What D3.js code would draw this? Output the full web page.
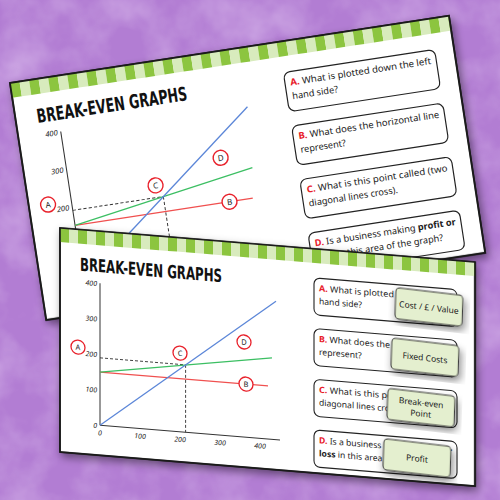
<!DOCTYPE html>
<html>
<head>
<meta charset="utf-8">
<script src="https://cdn.jsdelivr.net/npm/d3@7"></script>
<style>
  body { margin: 0; background: #b884d6; }
  svg { display: block; }
</style>
</head>
<body>
<svg id="chart" width="500" height="500"></svg>
<script>
"use strict";

// axis ticks (both axes)
const tickValues = [0, 100, 200, 300, 400];

// lines on the break-even graph (x = output, y = £)
const revenueX = [0, 440];
const revenue = [0, 390];
const totalCostX = [0, 430];
const totalCost = [150, 230];
const fixedCostX = [0, 420];
const fixedCost = [150, 150];
const breakEven = [214, 190];

// circled labels: letter, x, y (data units)
const markers = [["A", -55, 215], ["C", 200, 222], ["D", 360, 268], ["B", 365, 150]];

// questions (line 1, line 2) and answers
const questions = [
  ["A.", "What is plotted down the left", "hand side?"],
  ["B.", "What does the horizontal line", "represent?"],
  ["C.", "What is this point called (two", "diagonal lines cross)."],
  ["D.", "Is a business making ", "in this area of the graph?"]
];
const answers = [["Cost / £ / Value"], ["Fixed Costs"], ["Break-even", "Point"], ["Profit"]];

const svg = d3.select("#chart");
const defs = svg.append("defs");

// purple mottled background
const tex = defs.append("filter").attr("id", "tex").attr("x", 0).attr("y", 0).attr("width", 1).attr("height", 1);
tex.append("feTurbulence").attr("type", "fractalNoise").attr("baseFrequency", 0.02).attr("numOctaves", 4).attr("seed", 3);
tex.append("feColorMatrix").attr("values",
  "0 0 0 0 0.82  0 0 0 0 0.66  0 0 0 0 0.92  0 0 0 1.2 -0.45");
svg.append("rect").attr("width", 500).attr("height", 500).attr("fill", "#b27dd3");
svg.append("rect").attr("width", 500).attr("height", 500).attr("filter", "url(#tex)").attr("opacity", 0.7);

const shadow = defs.append("filter").attr("id", "shadow").attr("x", -0.1).attr("y", -0.1).attr("width", 1.2).attr("height", 1.3);
shadow.append("feDropShadow").attr("dx", 2).attr("dy", 4).attr("stdDeviation", 4).attr("flood-opacity", 0.45);

const slideW = 415, slideH = 224;
const font = "'Noto Sans', 'DejaVu Sans', sans-serif";

function drawSlide(g, withAnswers) {
  g.append("rect").attr("width", slideW).attr("height", slideH)
    .attr("fill", "#fff").attr("stroke", "#1a1a1a").attr("stroke-width", 1.6)
    .attr("filter", "url(#shadow)");

  // striped header band
  const stripes = d3.range(0, slideW, 9);
  g.append("g").selectAll("rect").data(stripes).join("rect")
    .attr("x", d => d).attr("y", 0)
    .attr("width", d => Math.min(9, slideW - d)).attr("height", 14)
    .attr("fill", (d, i) => i % 2 ? "#d8ebbd" : "#8cc53f");
  g.append("rect").attr("width", slideW).attr("height", slideH)
    .attr("fill", "none").attr("stroke", "#1a1a1a").attr("stroke-width", 1.6);

  g.append("text").attr("x", 20).attr("y", 41)
    .attr("font-family", "'DejaVu Sans Condensed', 'DejaVu Sans', sans-serif")
    .attr("font-weight", "bold").attr("font-size", 18)
    .attr("textLength", 142).attr("lengthAdjust", "spacingAndGlyphs")
    .attr("fill", "#111").text("BREAK-EVEN GRAPHS");

  const x = d3.scaleLinear().domain([0, 400]).range([40, 200]);
  const y = d3.scaleLinear().domain([0, 400]).range([194, 52]);

  // axes
  g.append("line").attr("x1", x(0)).attr("x2", x(450)).attr("y1", y(0)).attr("y2", y(0)).attr("stroke", "#333");
  g.append("line").attr("x1", x(0)).attr("x2", x(0)).attr("y1", y(0)).attr("y2", y(400)).attr("stroke", "#333");
  g.append("g").selectAll("text").data(tickValues).join("text")
    .attr("x", x(0) - 3).attr("y", d => y(d) + 3).attr("text-anchor", "end")
    .attr("font-family", font).attr("font-style", "italic").attr("font-size", 7).attr("fill", "#222")
    .text(d => d);
  g.append("g").selectAll("text").data(tickValues).join("text")
    .attr("x", d => x(d)).attr("y", y(0) + 10).attr("text-anchor", "middle")
    .attr("font-family", font).attr("font-style", "italic").attr("font-size", 7).attr("fill", "#222")
    .text(d => d);

  // dashed guides to break-even
  const dash = g.append("g").attr("stroke", "#333").attr("stroke-dasharray", "3,2").attr("stroke-width", 0.9);
  dash.append("line").attr("x1", x(0)).attr("y1", y(breakEven[1])).attr("x2", x(breakEven[0])).attr("y2", y(breakEven[1]));
  dash.append("line").attr("x1", x(breakEven[0])).attr("y1", y(breakEven[1])).attr("x2", x(breakEven[0])).attr("y2", y(0));

  const line = d3.line().x(d => x(d[0])).y(d => y(d[1]));
  const series = [
    [fixedCostX, fixedCost, "#f0504f"],
    [totalCostX, totalCost, "#3cbf63"],
    [revenueX, revenue, "#5b86d8"]
  ];
  series.forEach(([xs, ys, c]) => {
    g.append("path").attr("d", line(xs.map((v, i) => [v, ys[i]])))
      .attr("fill", "none").attr("stroke", c).attr("stroke-width", 1.2);
  });

  const mk = g.append("g").selectAll("g").data(markers).join("g")
    .attr("transform", d => `translate(${x(d[1])},${y(d[2])})`);
  mk.append("circle").attr("r", 7).attr("fill", "#fff").attr("stroke", "#e8202a").attr("stroke-width", 1.3);
  mk.append("text").attr("y", 2.8).attr("text-anchor", "middle")
    .attr("font-family", font).attr("font-size", 7.5).attr("fill", "#222").text(d => d[0]);

  // question boxes
  const qy = d3.scaleBand().domain(d3.range(4)).range([29, 218]).paddingInner(0.27);
  const qb = g.append("g").selectAll("g").data(questions).join("g")
    .attr("transform", (d, i) => `translate(254,${qy(i)})`);
  qb.append("rect").attr("width", 143).attr("height", qy.bandwidth()).attr("rx", 6)
    .attr("fill", "#fff").attr("stroke", "#222").attr("stroke-width", 1.1);
  const t1 = qb.append("text").attr("x", 5).attr("y", 13).attr("font-family", font).attr("font-size", 8.6).attr("fill", "#222")
    .attr("textLength", 133).attr("lengthAdjust", "spacingAndGlyphs");
  t1.append("tspan").attr("fill", "#e8202a").attr("font-weight", "bold").text(d => d[0] + " ");
  t1.append("tspan").text(d => d[1]);
  t1.filter((d, i) => i === 3).append("tspan").attr("font-weight", "bold").text("profit or");
  const t2 = qb.append("text").attr("x", 5).attr("y", 26).attr("font-family", font).attr("font-size", 8.6).attr("fill", "#222");
  t2.filter((d, i) => i === 3).append("tspan").attr("font-weight", "bold").text("loss ");
  t2.append("tspan").text(d => d[2]);

  if (withAnswers) {
    const ab = g.append("g").selectAll("g").data(answers).join("g")
      .attr("transform", (d, i) => `translate(${336 - i * 4},${qy(i) + 3}) rotate(2)`);
    ab.append("rect").attr("width", 67).attr("height", 31).attr("rx", 4)
      .attr("fill", "#e4efcf").attr("stroke", "#333").attr("stroke-width", 1)
      .attr("filter", "url(#shadow)");
    ab.append("text").attr("text-anchor", "middle").attr("font-family", font).attr("font-size", 8.5).attr("fill", "#222")
      .selectAll("tspan").data(d => d).join("tspan")
      .attr("x", 33.5)
      .attr("y", (d, i, n) => 19 + (i - (n.length - 1) / 2) * 11)
      .text(d => d);
  }
}

const back = svg.append("g").attr("transform", "translate(10,83) rotate(-8.7) scale(1.07)");
drawSlide(back, false);
const front = svg.append("g").attr("transform", "translate(60,228) skewY(4.7)");
drawSlide(front, true);
</script>
</body>
</html>
